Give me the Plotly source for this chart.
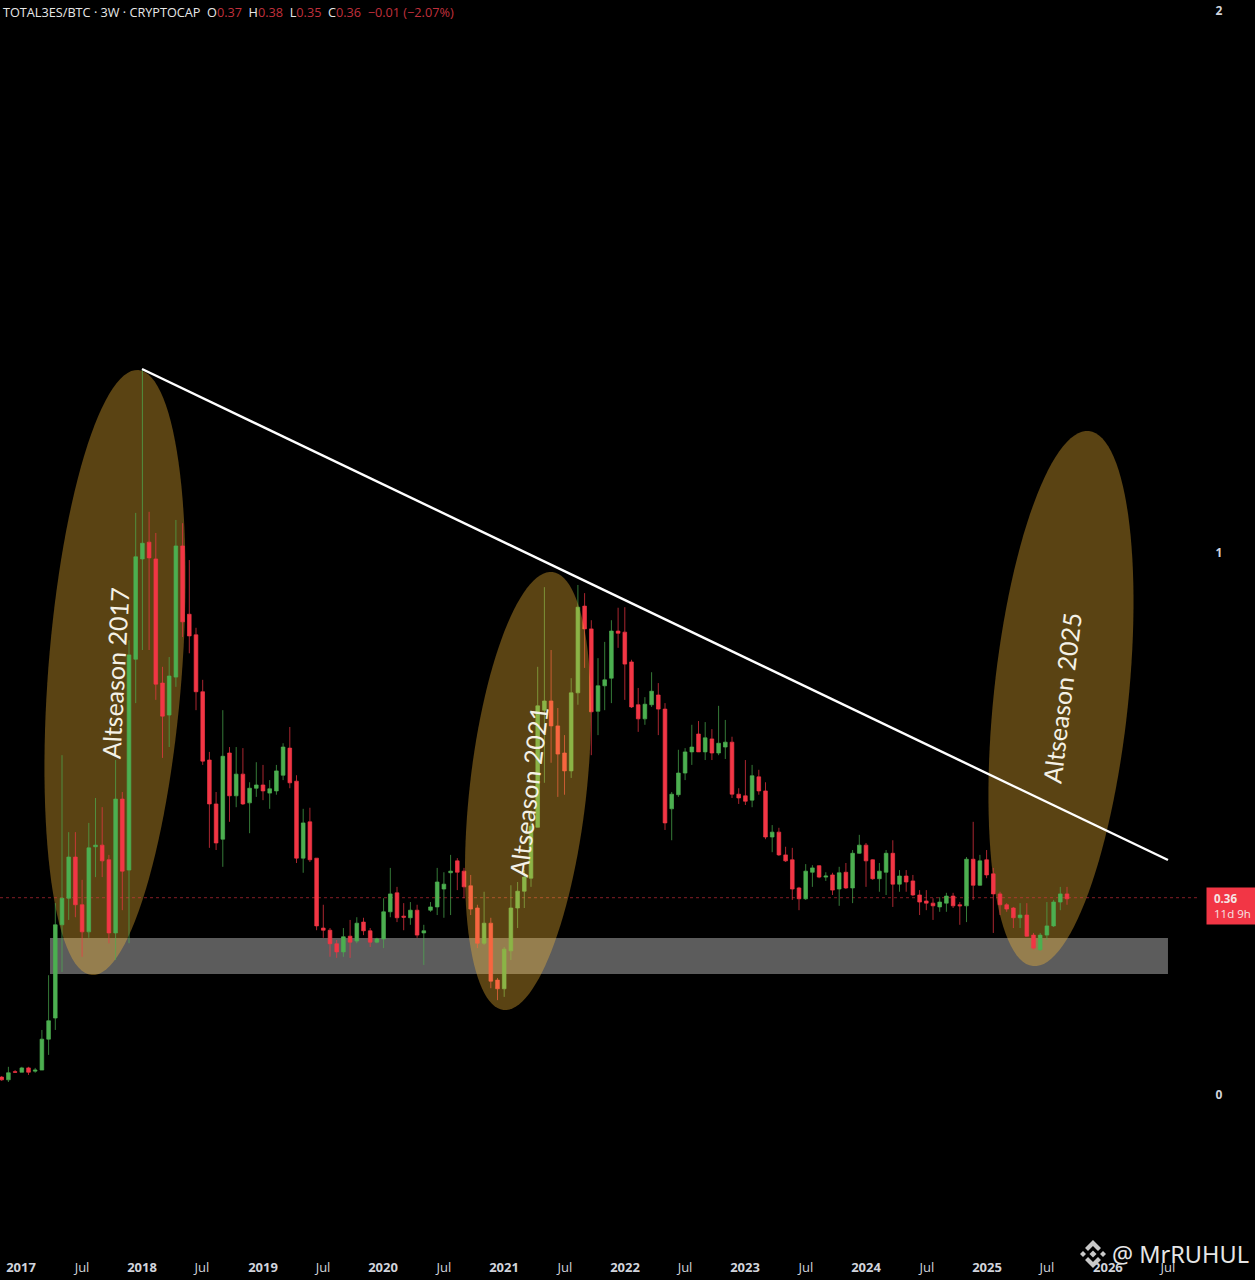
import math
import plotly.graph_objects as go

# --- data (price units of the right axis) ---
opens = [.033,.028,.043,.042,.050,.044,.046,.103,.142,.314,.363,.439,.351,.301,.458,.461,.434,.299,.546,.415,
         .804,.989,1.020,.989,.760,.701,.771,1.013,.887,.849,.744,.618,.537,.472,.631,.552,.592,.539,.566,.572,
         .557,.561,.590,.640,.579,.437,.504,.437,.308,.304,.279,.264,.293,.284,.319,.303,.282,.288,.338,.373,
         .330,.327,.341,.299,.341,.347,.380,.410,.432,.413,.386,.345,.280,.317,.212,.196,.266,.345,.376,.400,
         .494,.710,.727,.681,.631,.598,.742,.902,.860,.708,.755,.769,.856,.854,.799,.720,.694,.720,.738,.712,
         .528,.554,.594,.633,.666,.633,.657,.631,.642,.651,.555,.552,.544,.587,.561,.476,.485,.443,.434,.382,
         .362,.411,.423,.402,.406,.380,.411,.382,.446,.461,.434,.399,.411,.446,.389,.404,.395,.369,.358,.354,
         .347,.354,.367,.351,.349,.435,.387,.434,.408,.371,.351,.345,.327,.332,.295,.268,.295,.312,.356,.371]
highs = [.035,.052,.046,.052,.052,.050,.120,.221,.354,.627,.485,.485,.397,.502,.548,.531,.443,.618,.559,.839,
         1.074,1.338,1.076,1.037,.790,.808,1.061,1.055,.987,.862,.766,.633,.559,.710,.642,.642,.640,.577,.614,.609,
         .581,.609,.649,.679,.590,.528,.530,.437,.351,.308,.286,.308,.323,.328,.327,.308,.290,.363,.419,.384,
         .354,.356,.351,.314,.356,.419,.411,.443,.437,.419,.406,.351,.375,.327,.216,.273,.387,.393,.415,.526,
         .790,.937,.821,.714,.664,.769,.941,.926,.876,.806,.836,.876,.899,.900,.803,.751,.734,.780,.760,.723,
         .559,.637,.640,.683,.690,.688,.675,.718,.692,.661,.566,.618,.609,.600,.577,.498,.493,.458,.456,.384,
         .426,.424,.424,.411,.410,.421,.428,.452,.480,.465,.435,.428,.452,.470,.415,.415,.406,.378,.378,.363,
         .365,.373,.373,.356,.439,.504,.443,.452,.419,.375,.354,.347,.354,.354,.299,.299,.356,.360,.384,.384]
lows = [.026,.024,.041,.042,.037,.041,.046,.074,.120,.227,.323,.328,.255,.290,.402,.402,.280,.249,.341,.280,
        .723,.821,.821,.729,.622,.642,.753,.845,.815,.710,.609,.456,.452,.421,.504,.531,.535,.483,.550,.544,
        .528,.554,.581,.566,.428,.410,.430,.304,.290,.255,.253,.255,.253,.280,.295,.273,.280,.271,.328,.319,
        .304,.314,.290,.240,.338,.332,.327,.332,.378,.363,.332,.271,.277,.197,.175,.181,.249,.308,.345,.384,
        .511,.576,.613,.550,.554,.585,.720,.788,.627,.664,.710,.723,.825,.729,.714,.670,.683,.716,.664,.489,
        .470,.550,.581,.609,.633,.618,.618,.627,.620,.548,.537,.535,.531,.554,.472,.448,.441,.430,.360,.341,
        .360,.384,.400,.395,.369,.349,.380,.354,.445,.384,.397,.375,.369,.347,.375,.375,.367,.332,.341,.323,
        .338,.338,.345,.314,.319,.360,.386,.400,.299,.332,.338,.308,.308,.292,.268,.266,.286,.310,.341,.351]
closes = [.028,.041,.042,.050,.042,.046,.103,.137,.314,.363,.439,.351,.301,.456,.461,.432,.299,.546,.413,.812,
          .993,1.018,.991,.758,.699,.773,1.013,.873,.847,.744,.616,.537,.465,.625,.552,.592,.537,.566,.572,.561,
          .565,.598,.642,.576,.437,.502,.434,.312,.304,.279,.264,.292,.282,.317,.303,.282,.288,.338,.371,.327,
          .328,.341,.295,.303,.347,.393,.389,.413,.411,.384,.343,.280,.317,.210,.196,.269,.345,.376,.402,.496,
          .718,.727,.681,.629,.598,.742,.900,.860,.707,.755,.766,.856,.852,.795,.716,.694,.721,.745,.712,.502,
          .555,.594,.633,.642,.633,.659,.631,.649,.651,.555,.548,.542,.589,.561,.476,.485,.443,.432,.380,.362,
          .413,.419,.402,.404,.378,.410,.382,.446,.461,.432,.399,.413,.446,.389,.404,.393,.369,.356,.354,.349,
          .356,.367,.349,.349,.435,.387,.432,.406,.371,.351,.343,.327,.332,.293,.271,.295,.312,.356,.371,.362]
bars = list(range(len(opens)))

tick_bars = [2.88,11.99,20.94,29.89,39.0,47.96,56.91,66.01,74.97,84.07,93.03,101.99,110.94,120.04,129.0,138.1,147.06,156.0,165.1,174.07]
tick_labels = ["<b>2017</b>","Jul","<b>2018</b>","Jul","<b>2019</b>","Jul","<b>2020</b>","Jul","<b>2021</b>","Jul",
               "<b>2022</b>","Jul","<b>2023</b>","Jul","<b>2024</b>","Jul","<b>2025</b>","Jul","<b>2026</b>","Jul"]
y_ticks = [0, 1, 2]

W, H, MR, MB = 1255, 1280, 55, 25
PW, PH = W - MR, H - MB
PX_BAR, PX_UNIT = 6.7, 542.0
x_range = [-1.7 / PX_BAR, (PW - 1.7) / PX_BAR]
y_range = [(1095 - PH) / PX_UNIT, 1095 / PX_UNIT]

GREEN, RED = "#4caf50", "#f23645"
ELL = "rgba(255,190,54,0.353)"
TXT = "#d1d4dc"


def ellipse(cx, cy, a, b, deg):
    """Tilted ellipse path: centre in axis units, semi-axes in pixels, tilt from vertical."""
    t = math.radians(deg)
    pts = []
    for k in range(120):
        u = 2 * math.pi * k / 120
        dx = a * math.cos(u) * math.sin(t) + b * math.sin(u) * math.cos(t)
        dy = a * math.cos(u) * math.cos(t) - b * math.sin(u) * math.sin(t)
        pts.append(f"{cx + dx / PX_BAR:.3f},{cy + dy / PX_UNIT:.4f}")
    return "M" + " L".join(pts) + " Z"


def paper_poly(points):
    return "M" + " L".join(f"{x / PW:.5f},{(PH - y) / PH:.5f}" for x, y in points) + " Z"


shapes = [
    dict(type="rect", x0=7.21, x1=174.07, y0=.2232, y1=.2897, fillcolor="rgba(255,255,255,0.36)", line_width=0, layer="below"),
    dict(type="path", path=ellipse(16.91, .7795, 303.4, 66.8, 4.4), fillcolor=ELL, line_width=0, layer="below"),
    dict(type="path", path=ellipse(158.1, .7315, 269, 67.3, 5.97), fillcolor=ELL, line_width=0, layer="below"),
    dict(type="line", x0=x_range[0], x1=x_range[1] + 0.7, y0=closes[-1] + .002, y1=closes[-1] + .002,
         line=dict(color="rgba(242,54,69,0.55)", width=1, dash="dot"), layer="below"),
    dict(type="path", path=ellipse(78.55, .5609, 220.3, 58.4, 6.4), fillcolor=ELL, line_width=0, layer="above"),
    dict(type="line", x0=20.94, y0=1.3395, x1=174.07, y1=.4336, line=dict(color="#ffffff", width=2.4), layer="above"),
]
# exchange logo next to the watermark
logo = "#c9c9c9"
cx, cy = 1093, 1254
for pts in (
    [(cx, cy - 14), (cx + 8, cy - 6), (cx + 5, cy - 3), (cx, cy - 8), (cx - 5, cy - 3), (cx - 8, cy - 6)],
    [(cx, cy + 14), (cx + 8, cy + 6), (cx + 5, cy + 3), (cx, cy + 8), (cx - 5, cy + 3), (cx - 8, cy + 6)],
    [(cx, cy - 3.5), (cx + 3.5, cy), (cx, cy + 3.5), (cx - 3.5, cy)],
    [(cx - 10, cy - 3), (cx - 7, cy), (cx - 10, cy + 3), (cx - 13, cy)],
    [(cx + 10, cy - 3), (cx + 13, cy), (cx + 10, cy + 3), (cx + 7, cy)],
):
    shapes.append(dict(type="path", xref="paper", yref="paper", path=paper_poly(pts), fillcolor=logo, line_width=0, layer="above"))

red_txt = "#c0303c"
header = ("TOTAL3ES/BTC · 3W · CRYPTOCAP  O"
          f"<span style='color:{red_txt}'>0.37</span>  H<span style='color:{red_txt}'>0.38</span>  "
          f"L<span style='color:{red_txt}'>0.35</span>  C<span style='color:{red_txt}'>0.36</span>  "
          f"<span style='color:{red_txt}'>−0.01 (−2.07%)</span>")

annotations = [
    dict(xref="paper", yref="paper", x=1 / PW, y=(PH - 12) / PH, xanchor="left", yanchor="middle", showarrow=False,
         text=header, font=dict(family="Open Sans", size=12.7, color="#e8e8e8")),
    dict(xref="paper", yref="paper", x=1206 / PW, y=(PH - 906) / PH, xanchor="left", yanchor="middle", showarrow=False,
         text="<b>&nbsp;&nbsp;0.36</b><br>&nbsp;&nbsp;11d 9h", bgcolor=RED, width=49, height=34, align="left",
         font=dict(family="Open Sans", size=11.5, color="#f5e6e6")),
    dict(xref="paper", yref="paper", x=1110 / PW, y=(PH - 1254) / PH, xanchor="left", yanchor="middle", showarrow=False,
         text="@ MrRUHUL", font=dict(family="Noto Sans", size=23.5, color="#e6e6e6")),
]
for label, bx, val, ang in (("Altseason 2017", 16.9, .7786, -87),
                            ("Altseason 2021", 78.6, .561, -83),
                            ("Altseason 2025", 158.2, .7325, -83)):
    annotations.append(dict(x=bx, y=val, text=label, textangle=ang, showarrow=False,
                            font=dict(family="Lato", size=25, color="#f4f1e6")))

fig = go.Figure(go.Candlestick(
    x=bars, open=opens, high=highs, low=lows, close=closes,
    increasing=dict(line=dict(color=GREEN, width=0.7), fillcolor=GREEN),
    decreasing=dict(line=dict(color=RED, width=0.7), fillcolor=RED),
    whiskerwidth=0, showlegend=False, hoverinfo="skip",
))
fig.update_layout(
    width=W, height=H, margin=dict(l=0, r=MR, t=0, b=MB),
    paper_bgcolor="#000000", plot_bgcolor="#000000", boxgap=0.22,
    showlegend=False, shapes=shapes, annotations=annotations,
    xaxis=dict(range=x_range, tickmode="array", tickvals=tick_bars, ticktext=tick_labels,
               showgrid=False, zeroline=False, showline=False, rangeslider=dict(visible=False),
               ticks="", ticklabelstandoff=3, tickfont=dict(family="Open Sans", size=13, color=TXT)),
    yaxis=dict(range=y_range, side="right", tickmode="array", tickvals=y_ticks, ticktext=[f"<b>{v}</b>" for v in y_ticks],
               showgrid=False, zeroline=False, showline=False,
               ticks="outside", ticklen=12, tickcolor="#000000",
               tickfont=dict(family="Open Sans", size=12, color=TXT)),
)
fig.write_html("out.html", config=dict(displayModeBar=False),
               post_script="document.body.style.margin='0';document.body.style.background='#000';document.documentElement.style.overflow='hidden';")
